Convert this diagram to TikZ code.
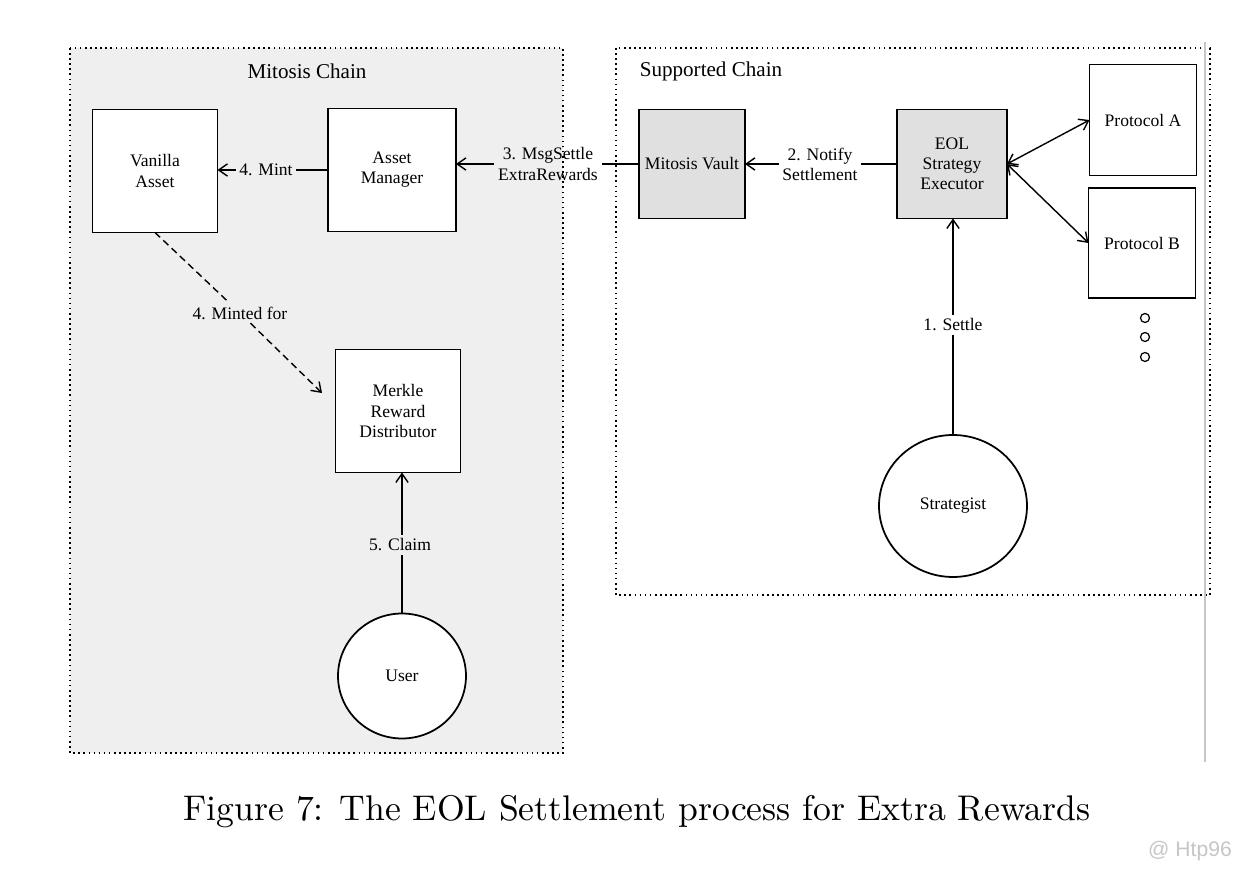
\documentclass[tikz,border=0pt]{standalone}
\usepackage{fontspec}
\newfontfamily\timesfont{Liberation Serif}
\newfontfamily\wmfont{Liberation Sans}
\usepackage{graphicx}
\usepackage{tikz}
\usetikzlibrary{positioning}
\usetikzlibrary{shapes.geometric}
\usetikzlibrary{arrows.meta}
\definecolor{chaingray}{RGB}{239,239,239}
\definecolor{boxgray}{RGB}{224,224,224}

\begin{document}
\begin{tikzpicture}[x=0.02cm, y=-0.02cm,
  >={Straight Barb[length=5pt,width=7pt]},
  every node/.style={font=\timesfont\fontsize{10}{11.4}\selectfont},
  block/.style={draw, line width=1.1pt, fill=white, align=center, inner sep=0pt, outer sep=0pt},
  actor/.style={draw, ellipse, line width=1pt, fill=white, inner sep=0pt, outer sep=0pt},
  flow/.style={line width=0.8pt},
  lbl/.style={align=center, inner sep=2pt}]
\useasboundingbox (0,0) rectangle (1242,878);
\fill[white] (0,0) rectangle (1242,878);

% the two chains
\draw[dotted, line width=0.9pt, fill=chaingray] (70,48) rectangle (563,753);
\draw[dotted, line width=0.9pt] (616,48) rectangle (1210,595);
\draw[gray!45, line width=0.6pt] (1205,42) -- (1205,762);
\node[font=\timesfont\fontsize{12}{14}\selectfont] (mitosis) at (307,71) {Mitosis Chain};
\node[font=\timesfont\fontsize{12}{14}\selectfont] (supported) at (711,71) {Supported Chain};

% Mitosis Chain
\node[block, minimum width=2.5cm, minimum height=2.46cm] (vanilla) at (155,171) {Vanilla\\Asset};
\node[block, minimum width=2.56cm, minimum height=2.46cm] (am) at (392,170) {Asset\\Manager};
\node[block, minimum width=2.5cm, minimum height=2.46cm] (merkle) at (398,411) {Merkle\\Reward\\Distributor};
\node[actor, minimum width=2.56cm, minimum height=2.5cm] (user) at (402,676) {User};

% Supported Chain
\node[block, fill=boxgray, minimum width=2.12cm, minimum height=2.18cm] (vault) at (692,164) {Mitosis Vault};
\node[block, fill=boxgray, minimum width=2.2cm, minimum height=2.18cm] (eol) at (952,164) {EOL\\Strategy\\Executor};
\node[block, minimum width=2.14cm, minimum height=2.22cm] (protA) at (1143,120) {Protocol A};
\node[block, minimum width=2.14cm, minimum height=2.2cm] (protB) at (1142,243) {Protocol B};
\foreach \y [count=\i] in {318,337,357}
  \node[draw, circle, inner sep=0pt, minimum size=0.18cm, line width=0.7pt] (dot\i) at (1145,\y) {};
\node[actor, minimum width=2.96cm, minimum height=2.84cm] (strat) at (953,506) {Strategist};

% flows
\node[lbl] (settle) at (953,325) {1. Settle};
\draw[flow] (strat.north) -- (settle.south);
\draw[flow, ->] (settle.north) -- (settle.north |- eol.south);

\node[lbl] (notify) at (820,164) {2. Notify\\Settlement};
\draw[flow] (eol.west) -- (notify.east);
\draw[flow, ->] (notify.west) -- (vault.east);

\node[lbl] (msg) at (548,164) {3. MsgSettle\\ExtraRewards};
\draw[flow] (vault.west) -- (msg.east);
\draw[flow, ->] (msg.west) -- (msg.west -| am.east);

\node[lbl] (mint) at (266,170) {4. Mint};
\draw[flow] (am.west) -- (mint.east);
\draw[flow, ->] (mint.west) -- (mint.west -| vanilla.east);

\coordinate (mintend) at (322,393);
\node[lbl] (minted) at (240,313) {4. Minted for};
\draw[flow, dash pattern=on 4pt off 2.5pt] (vanilla.south) -- (minted);
\draw[flow, dash pattern=on 4pt off 2.5pt, ->] (minted) -- (mintend);

\node[lbl] (claim) at (400,545) {5. Claim};
\draw[flow] (user.north) -- (user.north |- claim.south);
\draw[flow, ->] (user.north |- claim.north) -- (user.north |- merkle.south);

\draw[flow, <->] (eol.east) -- (protA.west);
\draw[flow, <->] (eol.east) -- (protB.west);

% caption and mark
\node[font=\rmfamily\fontsize{10}{12}\selectfont] (caption) at (637,812) {\scalebox{2.03}{Figure 7: The EOL Settlement process for Extra Rewards}};
\node[font=\wmfont\fontsize{12}{14}\selectfont, text=gray!45] (mark) at (1190,851) {@ Htp96};
\end{tikzpicture}
\end{document}
